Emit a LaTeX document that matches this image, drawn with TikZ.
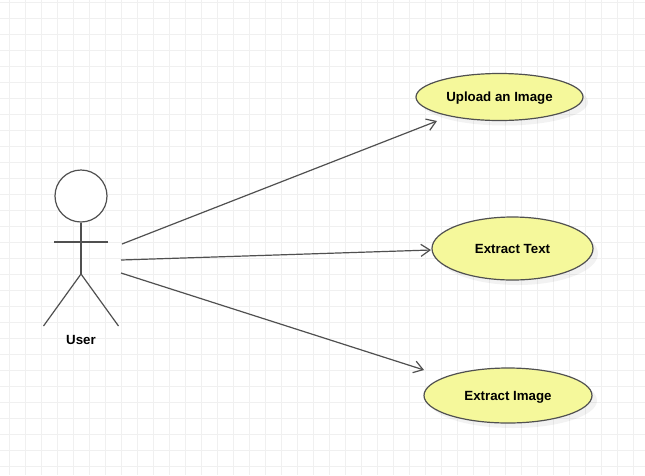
\documentclass[tikz,border=0pt]{standalone}
\usepackage{fontspec}
\setmainfont{Liberation Sans}
\usepackage{xcolor}
\usetikzlibrary{arrows.meta,shapes.geometric,shadows}
\definecolor{usecasefill}{HTML}{F5F89B}
\definecolor{gridgray}{HTML}{F0F0F0}
\definecolor{edgegray}{HTML}{505050}
\tikzset{
    gridline/.style={gridgray, line width=1pt},
    labeltext/.style={font=\fontsize{13.3}{15}\selectfont\bfseries, text height=10pt, text depth=1pt},
    usecase/.style={ellipse, draw=edgegray, line width=1.2pt, fill=usecasefill, inner sep=0pt, labeltext,
        drop shadow={shadow xshift=5pt, shadow yshift=-5pt, fill=black, opacity=0.05}},
    actorline/.style={draw=edgegray, line width=1.2pt},
    assoc/.style={draw=edgegray, line width=1.2pt, -{Straight Barb[length=9pt,width=12pt,line width=1.2pt]}},
}
\begin{document}
\begin{tikzpicture}[x=1pt,y=-1pt]
    \useasboundingbox (0,0) rectangle (645,475);
    \fill[white] (0,0) rectangle (645,475);
    \foreach \gx in {9,25,...,649} {\draw[gridline] (\gx,0) -- (\gx,475);}
    \foreach \gy in {2,18,...,466} {\draw[gridline] (0,\gy) -- (645,\gy);}

    \node[usecase, minimum width=167pt, minimum height=47pt] (upload) at (499.5,97) {Upload an Image};
    \node[usecase, minimum width=161pt, minimum height=63pt] (text) at (512.5,248.5) {Extract Text};
    \node[usecase, minimum width=168pt, minimum height=55pt] (image) at (508,395.5) {Extract Image};

    \node[circle, actorline, fill=white, minimum size=52pt, inner sep=0pt] (head) at (81,196) {};
    \coordinate (hip) at (81,274);
    \coordinate (armL) at (54,242);
    \coordinate (armR) at (108,242);
    \coordinate (footL) at (43.5,326);
    \coordinate (footR) at (118.5,326);
    \draw[actorline] (head.south) -- (hip);
    \draw[actorline] (armL) -- (armR);
    \draw[actorline] (footL) -- (hip) -- (footR);
    \node[labeltext] (user) at (81,340) {User};

    \coordinate (userA) at (122,244);
    \coordinate (userB) at (121,260);
    \coordinate (userC) at (121,273);
    \coordinate (endA) at (437,121);
    \coordinate (endB) at (431,250);
    \coordinate (endC) at (424,370);
    \draw[assoc] (userA) -- (endA);
    \draw[assoc] (userB) -- (endB);
    \draw[assoc] (userC) -- (endC);
\end{tikzpicture}
\end{document}
